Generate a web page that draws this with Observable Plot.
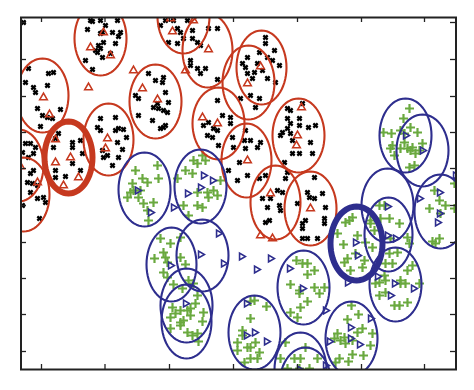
<!DOCTYPE html>
<html><head><meta charset="utf-8">
<style>html,body{margin:0;padding:0;background:#fff}svg{display:block;filter:blur(.45px)}</style>
<script src="https://cdn.jsdelivr.net/npm/d3@7"></script>
<script src="https://cdn.jsdelivr.net/npm/@observablehq/plot@0.6"></script>
</head><body>
<script>
const xTicks=[41,104.5,169,233,297,361,424];
const yTicks=[22,59,96,132,168,205,242,278,314,351];
// clusters: [cx, cy, rx, ry]
const redClusters=[[100,38,26,37],[42,95,26,37],[108,139,25,36],[18,165,25,36],[23,194,26,37],[155,101,26,37],[183,16,26,37],[207,50,25,37],[218,123,26,36],[248,82,26,37],[261,67,25,37],[298,135,26,37],[246,160,25,37],[275,202,25,37],[310,208,26,37]];
const redBold=[[68,157,24,36]];
const blueClusters=[[144,189,26,37],[200,186,26,37],[171,264,25,37],[202,255,26,36],[186,305,26,37],[186,321,25,37],[254,332,26,37],[303,287,26,37],[351,338,26,37],[300,369,26,37],[305,384,26,37],[387,205,26,37],[388,234,24,37],[395,284,26,37],[440,211,26,37],[405,135,26,37],[422,150,26,36]];
const blueBold=[[356,243,26,37]];
const blackPts=[[23,22],[87,29],[92,21],[100,33],[105,25],[102,32],[120,32],[118,36],[115,43],[103,42],[98,45],[97,52],[102,57],[110,53],[85,60],[92,69],[112,32],[95,50],[100,48],[117,20],[90,20],[100,20],
[53,72],[48,73],[28,68],[25,82],[33,87],[35,92],[47,85],[37,108],[60,109],[42,115],[47,117],[52,118],[40,126],
[58,133],[55,138],[72,142],[80,140],[72,147],[53,147],[82,153],[55,170],[65,176],[55,177],[72,163],[80,170],
[100,118],[115,117],[97,127],[100,130],[118,128],[123,129],[115,130],[126,137],[117,142],[122,149],[102,150],[107,155],[118,157],[112,165],[103,157],
[25,143],[30,143],[35,147],[22,152],[28,157],[33,153],[30,173],[33,170],[27,182],[32,183],[37,185],[30,192],[43,197],[37,198],[45,202],[39,218],[22,205],
[148,73],[163,77],[155,80],[162,82],[135,95],[138,98],[165,92],[168,102],[138,115],[157,103],[153,107],[158,108],[163,110],[167,112],[152,120],[163,127],[165,125],[160,128],
[160,25],[165,20],[173,20],[177,28],[168,42],[177,43],[183,38],[192,38],[192,30],[197,42],[200,45],[187,20],[180,32],
[208,28],[217,28],[190,60],[190,65],[197,68],[205,68],[200,73],[217,79],
[217,100],[222,115],[230,117],[208,122],[213,128],[217,130],[207,135],[212,137],[218,145],[203,125],[230,123],[228,170],[232,137],[233,147],
[265,37],[265,43],[274,50],[259,52],[267,57],[272,60],[279,65],[247,57],[242,63],[245,67],[257,63],[262,70],[254,72],[247,73],[252,78],[267,78],[275,82],[250,95],[259,98],[255,107],[240,98],
[287,108],[290,110],[287,118],[299,118],[290,123],[299,125],[282,132],[287,128],[290,133],[280,135],[308,127],[315,125],[292,140],[310,142],[292,153],[299,153],[312,153],[302,103],
[245,130],[244,140],[250,140],[260,142],[257,147],[245,148],[239,162],[247,175],[237,180],[259,178],[284,162],[287,172],[265,175],[285,178],[277,190],[282,192],[307,192],[314,177],[322,193],
[262,198],[270,198],[267,207],[279,205],[280,210],[269,220],[265,222],[297,203],[309,197],[314,198],[325,207],[305,220],[302,223],[302,228],[324,218],[324,223],[302,238],[307,238],[317,238]];
const redTri=[[90,47],[103,32],[110,55],[133,70],[88,87],[43,97],[49,114],[142,88],[157,99],[172,31],[208,49],[185,70],[202,117],[217,123],[107,138],[105,148],[55,139],[70,157],[55,162],[78,177],[63,185],[20,166],[37,182],[260,66],[247,83],[301,107],[297,135],[296,145],[247,160],[270,193],[310,208],[260,235],[272,238],[193,20],[170,18]];
const greenPts=[[409,108],[403,118],[383,132],[391,133],[400,130],[410,127],[417,132],[404,142],[392,145],[390,148],[400,148],[412,147],[422,143],[394,155],[415,153],[409,167],[414,165],[404,133],[407,148],[419,150],[410,150],
[434,190],[454,183],[439,200],[429,208],[445,205],[454,208],[440,213],[439,238],[435,243],[432,241],
[379,205],[384,205],[370,223],[380,218],[389,218],[399,223],[390,238],[407,237],[409,243],
[397,252],[389,253],[385,263],[392,263],[412,265],[407,270],[384,275],[379,282],[385,280],[400,280],[405,283],[419,283],[379,295],[385,292],[394,305],[399,305],[407,302],[400,283],[375,283],
[349,220],[352,217],[345,222],[337,233],[370,220],[374,230],[357,235],[365,242],[372,247],[343,244],[355,253],[344,262],[364,260],[362,267],[350,270],[347,258],
[296,260],[302,263],[307,263],[314,270],[307,274],[290,284],[299,290],[299,293],[314,287],[324,287],[319,293],[307,301],[300,307],[290,312],[297,317],
[351,305],[358,314],[347,319],[362,328],[357,332],[337,333],[334,338],[344,337],[352,340],[372,333],[370,345],[352,354],[363,355],[339,358],[335,362],[348,361],[340,340],[345,343],
[250,301],[254,300],[266,306],[250,318],[242,330],[237,342],[250,347],[255,342],[259,352],[247,347],[250,358],[257,358],[237,350],[244,362],[242,335],
[285,342],[280,358],[287,368],[294,358],[300,358],[305,347],[309,368],[317,358],[299,368],
[160,238],[170,243],[180,237],[163,252],[165,257],[154,258],[167,262],[180,257],[185,264],[163,272],[167,277],[173,284],[182,288],[188,280],[193,283],
[172,307],[175,313],[170,317],[180,310],[187,310],[190,308],[197,295],[195,303],[203,312],[202,321],[190,315],[180,322],[170,328],[180,325],[187,332],[192,335],[197,333],[198,341],[183,320],
[135,170],[157,165],[132,183],[142,178],[147,182],[158,178],[140,190],[130,192],[133,190],[127,197],[138,197],[143,203],[153,202],[148,220],[147,210],
[202,155],[193,160],[197,163],[205,160],[185,170],[192,173],[177,178],[220,180],[213,190],[207,192],[197,192],[183,205],[197,205],[202,207],[208,197],[217,195],[188,215]];
const blueTri=[[137,190],[212,180],[203,175],[200,187],[187,193],[150,212],[173,207],[218,233],[200,254],[223,263],[170,265],[185,303],[241,256],[270,258],[256,269],[289,268],[302,288],[325,310],[347,282],[246,303],[246,335],[254,332],[266,341],[299,369],[325,365],[350,327],[350,338],[359,344],[329,341],[370,318],[357,255],[355,242],[387,206],[387,235],[395,238],[377,276],[394,283],[390,295],[413,288],[419,198],[439,213],[437,222],[405,135],[422,150],[439,192],[455,175]];

const ring=(list)=>list.flatMap((c,i)=>d3.range(0,361,6).map(a=>({i,
  x:c[0]+c[2]*Math.cos(a*Math.PI/180),y:c[1]+c[3]*Math.sin(a*Math.PI/180)})));
const RED="#c6391f",BLUE="#2e2e8e",GREEN="#6aa93f",INK="#222";
const X=d=>d[0],Y=d=>d[1];
const lineOpts={x:"x",y:"y",z:"i",clip:true,curve:"linear"};
const plot=Plot.plot({
  width:474,height:390,marginLeft:20.5,marginRight:18.5,marginTop:17,marginBottom:21,
  x:{domain:[20.5,455.5],range:[20.5,455.5],axis:null},
  y:{domain:[17,369],range:[17,369],axis:null},
  marks:[
    Plot.dot(blackPts,{x:X,y:Y,symbol:"times",r:2.1,stroke:"#000",strokeWidth:2.3,clip:true}),
    Plot.dot(greenPts,{x:X,y:Y,symbol:"plus",r:3,stroke:GREEN,strokeWidth:2.2,clip:true}),
    Plot.dot(redTri,{x:X,y:Y,symbol:"triangle",r:2.8,stroke:RED,strokeWidth:1.6,clip:true}),
    Plot.dot(blueTri,{x:X,y:Y,symbol:"triangle",rotate:90,r:2.5,stroke:BLUE,strokeWidth:1.6,clip:true}),
    Plot.line(ring(redClusters),{...lineOpts,stroke:RED,strokeWidth:2.1}),
    Plot.line(ring(blueClusters),{...lineOpts,stroke:BLUE,strokeWidth:2.1}),
    Plot.line(ring(redBold),{...lineOpts,stroke:RED,strokeWidth:6}),
    Plot.line(ring(blueBold),{...lineOpts,stroke:BLUE,strokeWidth:6}),
    Plot.ruleX(xTicks,{y1:369,y2:364,stroke:INK,strokeWidth:1.3}),
    Plot.ruleX(xTicks,{y1:17,y2:22,stroke:INK,strokeWidth:1.3}),
    Plot.ruleY(yTicks,{x1:20.5,x2:26,stroke:INK,strokeWidth:1.3}),
    Plot.ruleY(yTicks,{x1:455.5,x2:450,stroke:INK,strokeWidth:1.3}),
    Plot.frame({stroke:INK,strokeWidth:2})
  ]
});
document.body.appendChild(plot);
</script>
</body></html>
